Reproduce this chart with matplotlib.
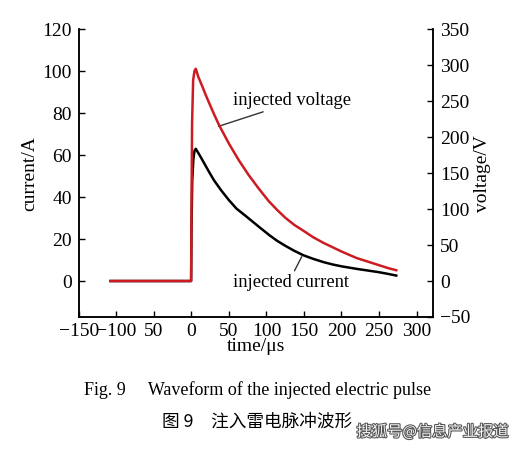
import matplotlib
matplotlib.use("Agg")
import matplotlib.pyplot as plt
import matplotlib.patheffects as pe

plt.rcParams['font.family'] = ['Liberation Serif', 'DejaVu Serif']

# values
t_cur = [-108, -0.5, 0, 1, 2.5, 4, 5.7, 10, 14.6, 19, 23.4, 30, 40, 50, 60, 74, 90, 104, 114, 125,
         137, 149, 162, 176, 188, 200, 220, 235, 250, 262, 273]
cur = [0, 0, 25, 48, 58, 62, 63, 60.5, 57.6, 54.8, 52, 48, 43, 38.5, 34.5, 30.5, 25.8, 21.8, 19.2, 16.8,
       14.4, 12.3, 10.6, 9.0, 7.9, 7.0, 5.8, 5.0, 4.2, 3.4, 2.6]

t_vol = [-108, -0.5, 0, 0.8, 2.2, 4, 5.7, 9, 14.6, 20, 25, 30, 36.6, 49.9, 63, 76.4, 90, 103, 114, 125, 137, 149,
         162, 176, 188, 200, 220, 235, 250, 262, 273]
vol = [0, 0, 100, 220, 279, 292, 295, 284, 270, 256, 244, 232, 217, 191, 168, 147, 128, 111, 99, 88, 78, 70,
       61, 53, 47, 41, 32, 27, 22, 18, 15]

xticks = [-150, -100, -50, 0, 50, 100, 150, 200, 250, 300]
xticklabels = ['\u2212150', '\u2212100', '50', '0', '50', '100', '150', '200', '250', '300']
yticks_l = [0, 20, 40, 60, 80, 100, 120]
yticks_r = [-50, 0, 50, 100, 150, 200, 250, 300, 350]

fig = plt.figure(figsize=(5.21, 4.49), dpi=100)
ax = fig.add_axes([0.1516, 0.294, 0.6795, 0.641])
ax2 = ax.twinx()

ax.plot(t_cur, cur, color='black', lw=1.8)
ax2.plot(t_vol, vol, color='#cc1c22', lw=1.8)

ax.set_xlim(-150, 322)
ax.set_ylim(-120 / 7, 120)
ax2.set_ylim(-50, 350)

ax.set_xticks(xticks)
ax.set_xticklabels(xticklabels)
ax.set_yticks(yticks_l)
ax2.set_yticks(yticks_r)
ax2.set_yticklabels([str(v).replace('-', '\u2212') for v in yticks_r])

for a in (ax, ax2):
    a.spines['top'].set_visible(False)
    a.tick_params(direction='in', length=4, width=1, labelsize=14, pad=5)
    for s in a.spines.values():
        s.set_linewidth(1.1)
ax.tick_params(axis='x', pad=4)

ax.set_xlabel('time/\u03bcs', fontsize=14, labelpad=-1)
ax.set_ylabel('current/A', fontsize=14, labelpad=3)
ax2.set_ylabel('voltage/V', fontsize=14, labelpad=3)

ax.annotate('injected voltage', xy=(36, 73.7), xytext=(55, 86),
            fontsize=13.3, va='center', ha='left',
            arrowprops=dict(arrowstyle='-', color='#333333', lw=1,
                            shrinkA=0, shrinkB=0, relpos=(0.33, 0)))
ax.annotate('injected current', xy=(147, 11.6), xytext=(55, -0.5),
            fontsize=13.3, va='center', ha='left',
            arrowprops=dict(arrowstyle='-', color='#333333', lw=1,
                            shrinkA=0, shrinkB=0, relpos=(0.52, 1)))

fig.text(0.495, 0.131, 'Fig. 9\u2003 Waveform of the injected electric pulse',
         ha='center', va='center', fontsize=13)
fig.text(0.493, 0.06, '\u56fe 9\u3000\u6ce8\u5165\u96f7\u7535\u8109\u51b2\u6ce2\u5f62',
         ha='center', va='center', fontsize=12.7,
         family=['Noto Sans CJK SC', 'DejaVu Sans'])
fig.text(0.83, 0.038, '\u641c\u72d0\u53f7@\u4fe1\u606f\u4ea7\u4e1a\u62a5\u9053',
         ha='center', va='center', fontsize=11, color='#f2f2f2',
         family=['Noto Sans CJK SC', 'DejaVu Sans'],
         path_effects=[pe.withStroke(linewidth=1.5, foreground='#555555')])

fig.savefig('out.png', dpi=100)
